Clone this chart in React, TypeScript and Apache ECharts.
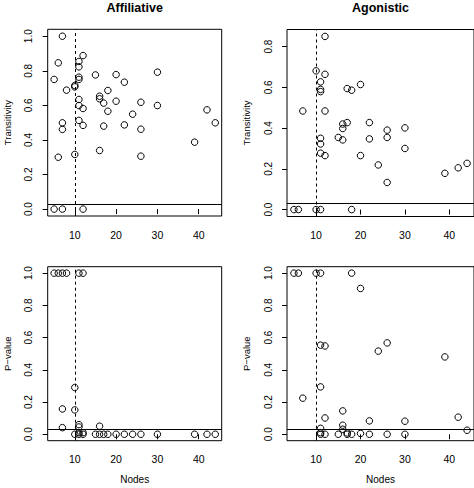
import { useEffect, useRef } from 'react';
import * as echarts from 'echarts';

// Nodes vs transitivity / p-value, one [nodes, value] pair per group
const affiliativeTransitivity: [number, number][] = [
  [7, 1.0], [6, 0.846], [5, 0.75], [11, 0.854], [12, 0.888], [11, 0.823],
  [11, 0.763], [11, 0.75], [10, 0.715], [10, 0.707], [8, 0.688], [11, 0.634],
  [11, 0.599], [12, 0.582], [11, 0.513], [12, 0.484], [7, 0.499], [7, 0.461],
  [6, 0.3], [10, 0.316], [15, 0.776], [20, 0.778], [22, 0.734], [30, 0.792],
  [16, 0.653], [16, 0.638], [17, 0.613], [18, 0.686], [20, 0.624], [18, 0.566],
  [17, 0.48], [22, 0.487], [24, 0.549], [26, 0.618], [26, 0.462], [30, 0.599],
  [16, 0.339], [26, 0.306], [39, 0.387], [42, 0.574], [44, 0.499],
  [5, 0], [7, 0], [12, 0],
];

const agonisticTransitivity: [number, number][] = [
  [12, 0.85], [10, 0.681], [12, 0.664], [11, 0.627], [11, 0.59], [11, 0.579],
  [12, 0.484], [7, 0.484], [11, 0.35], [11, 0.322], [11, 0.277], [12, 0.265],
  [15, 0.354], [16, 0.342], [16, 0.398], [16, 0.42], [17, 0.427], [17, 0.594],
  [18, 0.586], [20, 0.614], [20, 0.265], [22, 0.427], [22, 0.347], [24, 0.219],
  [26, 0.39], [26, 0.354], [26, 0.133], [30, 0.401], [30, 0.3], [39, 0.178],
  [42, 0.205], [44, 0.227], [5, 0], [6, 0], [10, 0], [11, 0], [18, 0],
];

const affiliativePValue: [number, number][] = [
  [5, 1], [6, 1], [7, 1], [8, 1], [11, 1], [12, 1], [10, 0.29], [10, 0.151],
  [7, 0.157], [7, 0.041], [11, 0.06], [11, 0.045], [16, 0.05], [10, 0],
  [11, 0], [11, 0.01], [12, 0], [12, 0.01], [15, 0], [16, 0], [17, 0],
  [18, 0], [20, 0], [22, 0], [24, 0], [26, 0], [30, 0], [39, 0], [42, 0], [44, 0],
];

const agonisticPValue: [number, number][] = [
  [5, 1], [6, 1], [10, 1], [11, 1], [18, 1], [20, 0.905], [11, 0.553],
  [12, 0.548], [24, 0.516], [26, 0.567], [39, 0.48], [11, 0.294], [7, 0.224],
  [16, 0.145], [12, 0.101], [42, 0.106], [22, 0.083], [30, 0.081], [16, 0.056],
  [16, 0.031], [11, 0.037], [44, 0.025], [11, 0], [11, 0.01], [12, 0], [15, 0],
  [17, 0], [17, 0.008], [18, 0], [20, 0.005], [22, 0], [26, 0], [30, 0],
];

const nodeTicks = [10, 20, 30, 40];
const unitTicks = [0, 0.2, 0.4, 0.6, 0.8, 1.0];
const agonisticTransTicks = [0, 0.2, 0.4, 0.6, 0.8];
const panelTitles = ['Affiliative', 'Agonistic'];

const NODE_CUTOFF = 10;
const P_CUTOFF = 0.025;

const FONT = '"Liberation Sans", Arial, Helvetica, sans-serif';

interface Panel {
  rect: { left: number; top: number; width: number; height: number };
  data: [number, number][];
  yMin: number;
  yMax: number;
  yTicks: number[];
  yName: string;
  yNameGap: number;
  xName: string;
}

export default function App() {
  const ref = useRef<HTMLDivElement | null>(null);

  useEffect(() => {
    if (!ref.current) return;
    const chart = echarts.init(ref.current, undefined, { renderer: 'svg' });

    // R extends the axis range by 4% on each side
    const panels: Panel[] = [
      { rect: { left: 47.7, top: 29.3, width: 174, height: 186.7 }, data: affiliativeTransitivity,
        yMin: -0.04, yMax: 1.04, yTicks: unitTicks, yName: 'Transitivity', yNameGap: 35, xName: '' },
      { rect: { left: 287, top: 29.5, width: 187, height: 187 }, data: agonisticTransitivity,
        yMin: -0.034, yMax: 0.884, yTicks: agonisticTransTicks, yName: 'Transitivity', yNameGap: 36, xName: '' },
      { rect: { left: 47.7, top: 266.7, width: 174, height: 174 }, data: affiliativePValue,
        yMin: -0.04, yMax: 1.04, yTicks: unitTicks, yName: 'P\u2212value', yNameGap: 35, xName: 'Nodes' },
      { rect: { left: 287, top: 266.7, width: 187, height: 174 }, data: agonisticPValue,
        yMin: -0.04, yMax: 1.04, yTicks: unitTicks, yName: 'P\u2212value', yNameGap: 36, xName: 'Nodes' },
    ];

    const black = '#000';

    chart.setOption({
      animation: false,
      backgroundColor: '#fff',
      grid: panels.map(p => ({
        ...p.rect,
        outerBoundsMode: 'none',
        containLabel: false,
        show: true,
        borderColor: black,
        borderWidth: 1,
        backgroundColor: 'transparent',
      })),
      xAxis: panels.map((p, i) => ({
        type: 'value',
        gridIndex: i,
        min: 3.44,
        max: 45.56,
        name: p.xName,
        nameLocation: 'middle',
        nameGap: 34,
        nameTextStyle: { color: black, fontSize: 10, fontFamily: FONT },
        axisLine: { show: false },
        splitLine: { show: false },
        axisTick: {
          show: true, inside: false, length: 5, customValues: nodeTicks,
          lineStyle: { color: black, width: 1 },
        },
        axisLabel: {
          customValues: nodeTicks, margin: 13, color: black, fontSize: 10.5, fontFamily: FONT,
        },
      })),
      yAxis: panels.map((p, i) => ({
        type: 'value',
        gridIndex: i,
        min: p.yMin,
        max: p.yMax,
        name: p.yName,
        nameLocation: 'middle',
        nameGap: p.yNameGap,
        nameTextStyle: { color: black, fontSize: 9.5, fontFamily: FONT },
        axisLine: { show: false },
        splitLine: { show: false },
        axisTick: {
          show: true, inside: false, length: 5, customValues: p.yTicks,
          lineStyle: { color: black, width: 1 },
        },
        axisLabel: {
          customValues: p.yTicks, rotate: 90, margin: 14, color: black, fontSize: 10,
          fontFamily: FONT, formatter: (v: number) => v.toFixed(1),
        },
      })),
      series: panels.map((p, i) => ({
        type: 'scatter',
        xAxisIndex: i,
        yAxisIndex: i,
        data: p.data,
        symbol: 'circle',
        symbolSize: 6.5,
        silent: true,
        itemStyle: { color: 'rgba(0,0,0,0)', borderColor: black, borderWidth: 1, opacity: 1 },
        markLine: {
          silent: true,
          symbol: ['none', 'none'],
          label: { show: false },
          lineStyle: { color: black, width: 1 },
          data: [
            { yAxis: P_CUTOFF, lineStyle: { type: 'solid', color: black, width: 1 } },
            { xAxis: NODE_CUTOFF, lineStyle: { type: [3, 3], color: black, width: 1 } },
          ],
        },
      })),
      graphic: panelTitles.map((t, i) => ({
        type: 'text',
        x: panels[i].rect.left + panels[i].rect.width / 2,
        y: 8,
        style: {
          text: t,
          align: 'center',
          verticalAlign: 'middle',
          fill: black,
          font: `bold 12.5px ${FONT}`,
        },
      })),
    });

    return () => chart.dispose();
  }, []);

  return (
    <div
      ref={ref}
      style={{ position: 'absolute', left: 0, top: 0, width: 474, height: 488, background: '#fff' }}
    />
  );
}
